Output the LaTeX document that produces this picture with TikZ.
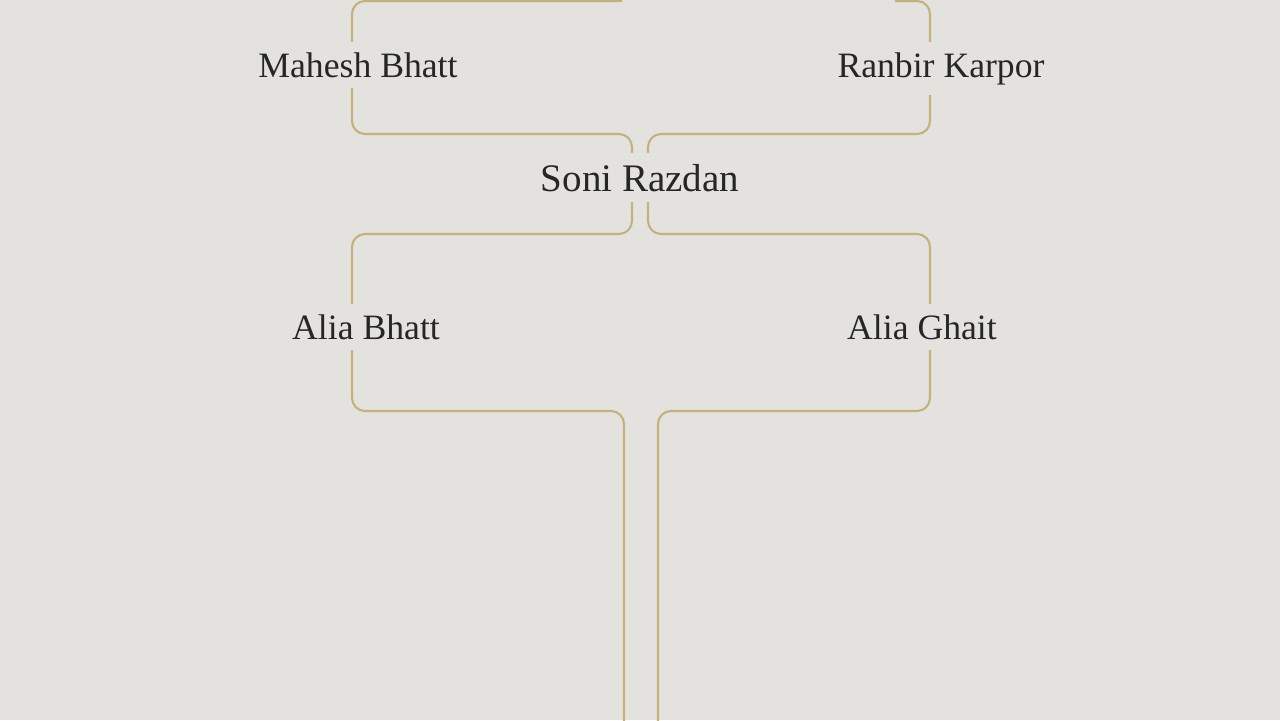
\documentclass[tikz,border=0pt]{standalone}
\usepackage{fontspec}
\setmainfont{Liberation Serif}
\definecolor{bgc}{HTML}{E3E2DF}
\definecolor{gold}{HTML}{C4B27E}
\definecolor{ink}{HTML}{262626}
\begin{document}
\begin{tikzpicture}[x=0.02cm,y=-0.02cm,
  link/.style={draw=gold,line width=1.2pt,rounded corners=0.26cm},
  person/.style={fill=bgc,text=ink,font=\fontsize{20.3}{24}\selectfont,inner xsep=2pt,inner ysep=6pt,anchor=base},
  bigperson/.style={person,font=\fontsize{22.2}{26}\selectfont}]
\fill[bgc] (0,0) rectangle (1280,720);
\useasboundingbox (0,0) rectangle (1280,720);
% coordinates
\coordinate (tl0) at (622,1);
\coordinate (tl1) at (352,1);
\coordinate (ml1) at (352,134);
\coordinate (ml2) at (632,134);
\coordinate (sl1) at (632,234);
\coordinate (al0) at (352,234);
\coordinate (al1) at (352,411);
\coordinate (al2) at (624,411);
\coordinate (bl) at (624,721);
\coordinate (tr0) at (895,1);
\coordinate (tr1) at (930,1);
\coordinate (mr1) at (930,134);
\coordinate (mr2) at (648,134);
\coordinate (sr1) at (648,234);
\coordinate (ar0) at (930,234);
\coordinate (ar1) at (930,411);
\coordinate (ar2) at (658,411);
\coordinate (br) at (658,721);
% brackets
\draw[link] (tl0) -- (tl1) -- (ml1) -- (ml2) -- (sl1) -- (al0) -- (al1) -- (al2) -- (bl);
\draw[link] (tr0) -- (tr1) -- (mr1) -- (mr2) -- (sr1) -- (ar0) -- (ar1) -- (ar2) -- (br);
% names
\node[person] (mahesh) at (358,77) {Mahesh Bhatt};
\node[person] (ranbir) at (941,77) {Ranbir Karpor};
\node[bigperson] (soni) at (640,191) {Soni Razdan};
\node[person] (aliab) at (366,339) {Alia Bhatt};
\node[person] (aliag) at (922,339) {Alia Ghait};
\end{tikzpicture}
\end{document}
